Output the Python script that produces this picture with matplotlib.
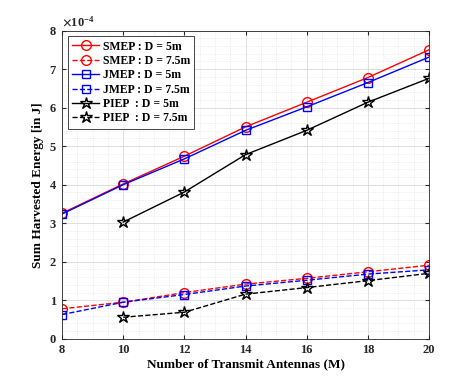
import matplotlib.pyplot as plt
import numpy as np
from matplotlib.ticker import MultipleLocator, ScalarFormatter

plt.rcParams['font.family'] = ['Liberation Serif', 'DejaVu Serif']
plt.rcParams['font.weight'] = 'bold'
plt.rcParams['mathtext.fontset'] = 'stix'

antennas = [8, 10, 12, 14, 16, 18, 20]
antennas_piep = [10, 12, 14, 16, 18, 20]

smep_5 = np.array([3.26, 4.02, 4.74, 5.50, 6.14, 6.78, 7.50]) * 1e-4
smep_75 = np.array([0.78, 0.95, 1.20, 1.42, 1.57, 1.74, 1.91]) * 1e-4
jmep_5 = np.array([3.24, 4.00, 4.67, 5.41, 6.02, 6.65, 7.31]) * 1e-4
jmep_75 = np.array([0.63, 0.95, 1.15, 1.37, 1.52, 1.68, 1.79]) * 1e-4
piep_5 = np.array([3.03, 3.81, 4.78, 5.41, 6.14, 6.76]) * 1e-4
piep_75 = np.array([0.56, 0.69, 1.16, 1.33, 1.51, 1.70]) * 1e-4

figure = plt.figure(figsize=(4.74, 3.82), dpi=100)
axis = figure.add_axes([0.131, 0.113, 0.774, 0.807])

axis.plot(antennas, smep_5, 'r-o', mfc='none', ms=7, lw=1, label='SMEP : D = 5m')
axis.plot(antennas, smep_75, 'r--o', mfc='none', ms=7, lw=1, label='SMEP : D = 7.5m')
axis.plot(antennas, jmep_5, 'b-s', mfc='none', ms=6, lw=1, label='JMEP : D = 5m')
axis.plot(antennas, jmep_75, 'b--s', mfc='none', ms=6, lw=1, label='JMEP : D = 7.5m')
axis.plot(antennas_piep, piep_5, 'k-*', mfc='none', ms=9, lw=1, label='PIEP  : D = 5m')
axis.plot(antennas_piep, piep_75, 'k--*', mfc='none', ms=9, lw=1, label='PIEP  : D = 7.5m')

axis.set_xlim(8, 20)
axis.set_ylim(0, 8e-4)
axis.xaxis.set_major_locator(MultipleLocator(2))
axis.xaxis.set_minor_locator(MultipleLocator(0.5))
axis.yaxis.set_major_locator(MultipleLocator(1e-4))
axis.yaxis.set_minor_locator(MultipleLocator(0.2e-4))

fmt = ScalarFormatter(useMathText=True)
fmt.set_powerlimits((-4, -4))
axis.yaxis.set_major_formatter(fmt)
axis.yaxis.get_offset_text().set_fontsize(9)
axis.yaxis.get_offset_text().set_fontweight('bold')

axis.grid(True, which='major', color='#d9d9d9', lw=0.6)
axis.grid(True, which='minor', color='#e0e0e0', lw=0.5, ls=':')
axis.set_axisbelow(True)

axis.tick_params(which='both', direction='in', top=True, right=True, labelsize=9, colors='#262626')
axis.tick_params(which='major', length=3)
axis.tick_params(which='minor', length=0)
for spine in axis.spines.values():
    spine.set_color('#262626')
    spine.set_linewidth(0.6)
for lbl in axis.get_xticklabels() + axis.get_yticklabels():
    lbl.set_fontweight('bold')

axis.set_xlabel('Number of Transmit Antennas (M)', fontsize=9.5, fontweight='bold', labelpad=2)
axis.set_ylabel('Sum Harvested Energy [in J]', fontsize=9.5, fontweight='bold', labelpad=4)

leg = axis.legend(loc='upper left', prop={'weight': 'bold', 'size': 8.5}, frameon=True,
                  fancybox=False, edgecolor='#262626', framealpha=1, handlelength=2.3,
                  borderaxespad=0.5, labelspacing=0.2, borderpad=0.35, handletextpad=0.3)
leg.get_frame().set_linewidth(0.6)

figure.savefig('out.png', dpi=100)
